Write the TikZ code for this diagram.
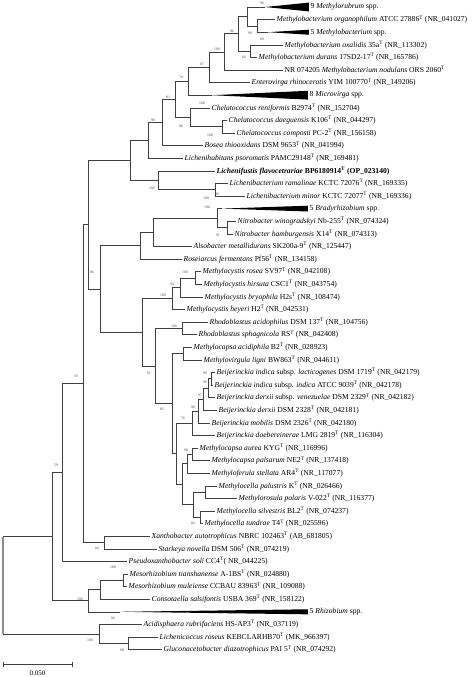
\documentclass[tikz,border=0pt]{standalone}
\usepackage{fontspec}
\setmainfont{Liberation Serif}
\usepackage{tikz}
\usetikzlibrary{positioning}

\newcommand{\sT}{\textsuperscript{T}}

\begin{document}
\begin{tikzpicture}[
    x=1pt, y=-12.6pt,
    br/.style={draw=black!75, line width=0.6pt},
    leaf/.style={anchor=west, inner sep=1.5pt, font=\fontsize{7.6}{8}\selectfont},
    bs/.style={inner sep=0.5pt, font=\fontsize{3.8}{4}\selectfont, text=black!70},
    clade/.style={fill=black}
  ]
  \useasboundingbox (0,0.444) rectangle (474,54.175);

  % ---- internal nodes (x in px, y in leaf rows)
  \coordinate (D1) at (257,2.5);
  \coordinate (D2) at (247,1.75);
  \coordinate (D4) at (250,4.5);
  \coordinate (D3) at (238,3.125);
  \coordinate (D5) at (224,4.5625);
  \coordinate (D6) at (209,5.78);
  \coordinate (D7) at (188,6.89);
  \coordinate (C2) at (222,10.5);
  \coordinate (C1) at (190,9.75);
  \coordinate (D8) at (175,8.32);
  \coordinate (C3) at (162,10.16);
  \coordinate (U2) at (148,11.58);
  \coordinate (L2) at (215,15.5);
  \coordinate (L1) at (158,14.75);
  \coordinate (U3) at (130,13.17);
  \coordinate (N1) at (227,18.5);
  \coordinate (B1) at (217,17.75);
  \coordinate (B2) at (153,18.875);
  \coordinate (U4) at (140,19.94);
  \coordinate (M1) at (195,22.5);
  \coordinate (M2) at (180,23.25);
  \coordinate (M3) at (172,24.125);
  \coordinate (R1) at (182,26.5);
  \coordinate (X1) at (183,28.5);
  \coordinate (Bi1) at (211,30.5);
  \coordinate (Bi2) at (208,31.25);
  \coordinate (Bi3) at (203,32.125);
  \coordinate (Bi4) at (198,33.06);
  \coordinate (Bi5) at (192,34.03);
  \coordinate (P1) at (192,36.5);
  \coordinate (P2) at (187,37.25);
  \coordinate (Q2) at (205,39.5);
  \coordinate (Q1) at (200,41.5);
  \coordinate (Q3) at (193,40.5);
  \coordinate (PQ) at (182,38.875);
  \coordinate (BP) at (176,36.45);
  \coordinate (XB) at (172,32.48);
  \coordinate (RX) at (155,29.49);
  \coordinate (Low) at (142,26.8);
  \coordinate (P100) at (100,23.37);
  \coordinate (Big) at (88,18.27);
  \coordinate (XS) at (104,43.5);
  \coordinate (C) at (83,30.9);
  \coordinate (B) at (62,37.94);
  \coordinate (MM) at (123,46.5);
  \coordinate (G2) at (100,47.25);
  \coordinate (G1) at (88,48.125);
  \coordinate (A) at (52,43.03);
  \coordinate (LG) at (128,51.5);
  \coordinate (Ac) at (99,50.75);
  \coordinate (R) at (3,46.9);

  % ---- collapsed clades
  \coordinate (a1) at (265,1);
  \fill[clade] (a1) -- (309,0.65) -- (309,1.35) -- cycle;
  \node[leaf] (t1) at (309,1) {9 \textit{Methylorubrum} spp.};
  \coordinate (a3) at (268,3);
  \fill[clade] (a3) -- (309,2.8) -- (309,3.2) -- cycle;
  \node[leaf] (t3) at (309,3) {5 \textit{Methylobacterium} spp.};
  \coordinate (a8) at (212,8);
  \fill[clade] (a8) -- (308,7.65) -- (308,8.35) -- cycle;
  \node[leaf] (t8) at (308,8) {8 \textit{Microvirga} spp.};
  \coordinate (a17) at (222,17);
  \fill[clade] (a17) -- (308,16.77) -- (308,17.23) -- cycle;
  \node[leaf] (t17) at (308,17) {5 \textit{Bradyrhizobium} spp.};
  \coordinate (a49) at (120,49);
  \fill[clade] (a49) -- (308,48.8) -- (308,49.2) -- cycle;
  \node[leaf] (t49) at (308,49) {5 \textit{Rhizobium} spp.};

  % ---- taxa
  \node[leaf] (t2) at (275,2) {\textit{Methylobacterium organophilum} ATCC 27886\sT{} (NR\_041027)};
  \node[leaf] (t4) at (283,4) {\textit{Methylobacterium oxalidis} 35a\sT{} (NR\_113302)};
  \node[leaf] (t5) at (257,5) {\textit{Methylobacterium durans} 17SD2-17\sT{} (NR\_165786)};
  \node[leaf] (t6) at (283,6) {NR 074205 \textit{Methylobacterium nodulans} ORS 2060\sT};
  \node[leaf] (t7) at (250,7) {\textit{Enterovirga rhinocerotis} YIM 100770\sT{} (NR\_149206)};
  \node[leaf] (t9) at (210,9) {\textit{Chelatococcus reniformis} B2974\sT{} (NR\_152704)};
  \node[leaf] (t10) at (227,10) {\textit{Chelatococcus daeguensis} K106\sT{} (NR\_044297)};
  \node[leaf] (t11) at (235,11) {\textit{Chelatococcus composti} PC-2\sT{} (NR\_156158)};
  \node[leaf] (t12) at (203,12) {\textit{Bosea thiooxidans} DSM 9653\sT{} (NR\_041994)};
  \node[leaf] (t13) at (183,13) {\textit{Lichenihabitans psoromatis} PAMC29148\sT{} (NR\_169481)};
  \node[leaf] (t14) at (215,14) {\textbf{\textit{Lichenifustis flavocetrariae} BP6180914\sT{} (OP\_023140)}};
  \node[leaf] (t15) at (228,15) {\textit{Lichenibacterium ramalinae} KCTC 72076\sT{} (NR\_169335)};
  \node[leaf] (t16) at (245,16) {\textit{Lichenibacterium minor} KCTC 72077\sT{} (NR\_169336)};
  \node[leaf] (t18) at (236,18) {\textit{Nitrobacter winogradskyi} Nb-255\sT{} (NR\_074324)};
  \node[leaf] (t19) at (233,19) {\textit{Nitrobacter hamburgensis} X14\sT{} (NR\_074313)};
  \node[leaf] (t20) at (192,20) {\textit{Alsobacter metallidurans} SK200a-9\sT{} (NR\_125447)};
  \node[leaf] (t21) at (182,21) {\textit{Roseiarcus fermentans} Pf56\sT{} (NR\_134158)};
  \node[leaf] (t22) at (201,22) {\textit{Methylocystis rosea} SV97\sT{} (NR\_042108)};
  \node[leaf] (t23) at (202,23) {\textit{Methylocystis hirsuta} CSC1\sT{} (NR\_043754)};
  \node[leaf] (t24) at (203,24) {\textit{Methylocystis bryophila} H2s\sT{} (NR\_108474)};
  \node[leaf] (t25) at (185,25) {\textit{Methylocystis heyeri} H2\sT{} (NR\_042531)};
  \node[leaf] (t26) at (208,26) {\textit{Rhodoblastus acidophilus} DSM 137\sT{} (NR\_104756)};
  \node[leaf] (t27) at (197,27) {\textit{Rhodoblastus sphagnicola} RS\sT{} (NR\_042408)};
  \node[leaf] (t28) at (192,28) {\textit{Methylocapsa acidiphila} B2\sT{} (NR\_028923)};
  \node[leaf] (t29) at (202,29) {\textit{Methylovirgula ligni} BW863\sT{} (NR\_044611)};
  \node[leaf] (t30) at (215,30) {\textit{Beijerinckia indica} subsp. \textit{lacticogenes} DSM 1719\sT{} (NR\_042179)};
  \node[leaf] (t31) at (213,31) {\textit{Beijerinckia indica} subsp. \textit{indica} ATCC 9039\sT{} (NR\_042178)};
  \node[leaf] (t32) at (215,32) {\textit{Beijerinckia derxii} subsp. \textit{venezuelae} DSM 2329\sT{} (NR\_042182)};
  \node[leaf] (t33) at (217,33) {\textit{Beijerinckia derxii} DSM 2328\sT{} (NR\_042181)};
  \node[leaf] (t34) at (210,34) {\textit{Beijerinckia mobilis} DSM 2326\sT{} (NR\_042180)};
  \node[leaf] (t35) at (215,35) {\textit{Beijerinckia doebereinerae} LMG 2819\sT{} (NR\_116304)};
  \node[leaf] (t36) at (198,36) {\textit{Methylocapsa aurea} KYG\sT{} (NR\_116996)};
  \node[leaf] (t37) at (210,37) {\textit{Methylocapsa palsarum} NE2\sT{} (NR\_137418)};
  \node[leaf] (t38) at (210,38) {\textit{Methyloferula stellata} AR4\sT{} (NR\_117077)};
  \node[leaf] (t39) at (217,39) {\textit{Methylocella palustris} K\sT{} (NR\_026466)};
  \node[leaf] (t40) at (237,40) {\textit{Methylorosula polaris} V-022\sT{} (NR\_116377)};
  \node[leaf] (t41) at (215,41) {\textit{Methylocella silvestris} BL2\sT{} (NR\_074237)};
  \node[leaf] (t42) at (203,42) {\textit{Methylocella tundrae} T4\sT{} (NR\_025596)};
  \node[leaf] (t43) at (150,43) {\textit{Xanthobacter autotrophicus} NBRC 102463\sT{} (AB\_681805)};
  \node[leaf] (t44) at (157,44) {\textit{Starkeya novella} DSM 506\sT{} (NR\_074219)};
  \node[leaf] (t45) at (127,45) {\textit{Pseudoxanthobacter soli} CC4\sT( NR\_044225)};
  \node[leaf] (t46) at (128,46) {\textit{Mesorhizobium tianshanense} A-1BS\sT{} (NR\_024880)};
  \node[leaf] (t47) at (127,47) {\textit{Mesorhizobium muleiense} CCBAU 83963\sT{} (NR\_109088)};
  \node[leaf] (t48) at (150,48) {\textit{Consotaella salsifontis} USBA 369\sT{} (NR\_158122)};
  \node[leaf] (t50) at (142,50) {\textit{Acidisphaera rubrifaciens} HS-AP3\sT{} (NR\_037119)};
  \node[leaf] (t51) at (158,51) {\textit{Lichenicoccus roseus} KEBCLARHB70\sT{} (MK\_966397)};
  \node[leaf] (t52) at (162,52) {\textit{Gluconacetobacter diazotrophicus} PAI 5\sT{} (NR\_074292)};

  % ---- branches
  \draw[br] (D1) |- (t2.west);  \draw[br] (D1) |- (a3);
  \draw[br] (D2) |- (a1);       \draw[br] (D2) |- (D1);
  \draw[br] (D4) |- (t4.west);  \draw[br] (D4) |- (t5.west);
  \draw[br] (D3) |- (D2);       \draw[br] (D3) |- (D4);
  \draw[br] (D5) |- (D3);       \draw[br] (D5) |- (t6.west);
  \draw[br] (D6) |- (D5);       \draw[br] (D6) |- (t7.west);
  \draw[br] (D7) |- (D6);       \draw[br] (D7) |- (a8);
  \draw[br] (C2) |- (t10.west); \draw[br] (C2) |- (t11.west);
  \draw[br] (C1) |- (t9.west);  \draw[br] (C1) |- (C2);
  \draw[br] (D8) |- (D7);       \draw[br] (D8) |- (C1);
  \draw[br] (C3) |- (D8);       \draw[br] (C3) |- (t12.west);
  \draw[br] (U2) |- (C3);       \draw[br] (U2) |- (t13.west);
  \draw[br] (L2) |- (t15.west); \draw[br] (L2) |- (t16.west);
  \draw[br] (L1) |- (t14.west); \draw[br] (L1) |- (L2);
  \draw[br] (U3) |- (U2);       \draw[br] (U3) |- (L1);
  \draw[br] (N1) |- (t18.west); \draw[br] (N1) |- (t19.west);
  \draw[br] (B1) |- (a17);      \draw[br] (B1) |- (N1);
  \draw[br] (B2) |- (B1);       \draw[br] (B2) |- (t20.west);
  \draw[br] (U4) |- (B2);       \draw[br] (U4) |- (t21.west);
  \draw[br] (M1) |- (t22.west); \draw[br] (M1) |- (t23.west);
  \draw[br] (M2) |- (M1);       \draw[br] (M2) |- (t24.west);
  \draw[br] (M3) |- (M2);       \draw[br] (M3) |- (t25.west);
  \draw[br] (R1) |- (t26.west); \draw[br] (R1) |- (t27.west);
  \draw[br] (X1) |- (t28.west); \draw[br] (X1) |- (t29.west);
  \draw[br] (Bi1) |- (t30.west); \draw[br] (Bi1) |- (t31.west);
  \draw[br] (Bi2) |- (Bi1);      \draw[br] (Bi2) |- (t32.west);
  \draw[br] (Bi3) |- (Bi2);      \draw[br] (Bi3) |- (t33.west);
  \draw[br] (Bi4) |- (Bi3);      \draw[br] (Bi4) |- (t34.west);
  \draw[br] (Bi5) |- (Bi4);      \draw[br] (Bi5) |- (t35.west);
  \draw[br] (P1) |- (t36.west);  \draw[br] (P1) |- (t37.west);
  \draw[br] (P2) |- (P1);        \draw[br] (P2) |- (t38.west);
  \draw[br] (Q2) |- (t39.west);  \draw[br] (Q2) |- (t40.west);
  \draw[br] (Q1) |- (t41.west);  \draw[br] (Q1) |- (t42.west);
  \draw[br] (Q3) |- (Q2);        \draw[br] (Q3) |- (Q1);
  \draw[br] (PQ) |- (P2);        \draw[br] (PQ) |- (Q3);
  \draw[br] (BP) |- (Bi5);       \draw[br] (BP) |- (PQ);
  \draw[br] (XB) |- (X1);        \draw[br] (XB) |- (BP);
  \draw[br] (RX) |- (R1);        \draw[br] (RX) |- (XB);
  \draw[br] (Low) |- (M3);       \draw[br] (Low) |- (RX);
  \draw[br] (P100) |- (U4);      \draw[br] (P100) |- (Low);
  \draw[br] (Big) |- (U3);       \draw[br] (Big) |- (P100);
  \draw[br] (XS) |- (t43.west);  \draw[br] (XS) |- (t44.west);
  \draw[br] (C) |- (Big);        \draw[br] (C) |- (XS);
  \draw[br] (B) |- (C);          \draw[br] (B) |- (t45.west);
  \draw[br] (MM) |- (t46.west);  \draw[br] (MM) |- (t47.west);
  \draw[br] (G2) |- (MM);        \draw[br] (G2) |- (t48.west);
  \draw[br] (G1) |- (G2);        \draw[br] (G1) |- (a49);
  \draw[br] (A) |- (B);          \draw[br] (A) |- (G1);
  \draw[br] (LG) |- (t51.west);  \draw[br] (LG) |- (t52.west);
  \draw[br] (Ac) |- (t50.west);  \draw[br] (Ac) |- (LG);
  \draw[br] (R) |- (A);          \draw[br] (R) |- (Ac);
  \draw[draw=black!45, line width=1.2pt] (R |- A) -- (R |- Ac);

  % ---- bootstrap values (placed in pixel units)
  \begin{scope}[y=-1pt, yshift=-5.6pt]
    \node[bs] (v1) at (262,3) {96};
    \node[bs] (v2) at (250,33) {99};
    \node[bs] (v3) at (262,39) {80};
    \node[bs] (v4) at (232,31) {96};
    \node[bs] (v5) at (217,49) {100};
    \node[bs] (v6) at (244,57) {66};
    \node[bs] (v7) at (202,64) {87};
    \node[bs] (v8) at (181,77) {74};
    \node[bs] (v9) at (168,97) {81};
    \node[bs] (v10) at (202,103) {100};
    \node[bs] (v11) at (181,126) {88};
    \node[bs] (v12) at (210,135) {100};
    \node[bs] (v13) at (153,120) {90};
    \node[bs] (v14) at (152,188) {100};
    \node[bs] (v15) at (206,198) {100};
    \node[bs] (v16) at (217,194) {99};
    \node[bs] (v17) at (207,207) {100};
    \node[bs] (v18) at (218,235) {91};
    \node[bs] (v19) at (185,272) {100};
    \node[bs] (v20) at (172,284) {94};
    \node[bs] (v21) at (163,295) {100};
    \node[bs] (v22) at (174,326) {100};
    \node[bs] (v23) at (205,373) {99};
    \node[bs] (v24) at (205,382) {99};
    \node[bs] (v25) at (200,395) {97};
    \node[bs] (v26) at (193,407) {90};
    \node[bs] (v27) at (183,418) {76};
    \node[bs] (v28) at (162,409) {83};
    \node[bs] (v29) at (149,373) {61};
    \node[bs] (v30) at (186,450) {98};
    \node[bs] (v31) at (193,523) {84};
    \node[bs] (v32) at (92,272) {86};
    \node[bs] (v33) at (76,376) {59};
    \node[bs] (v34) at (56,465) {59};
    \node[bs] (v35) at (97,548) {84};
    \node[bs] (v36) at (113,567) {100};
    \node[bs] (v37) at (80,599) {100};
    \node[bs] (v38) at (113,618) {84};
    \node[bs] (v39) at (90,640) {100};
    \node[bs] (v40) at (122,650) {98};
  \end{scope}

  % ---- scale bar
  \coordinate (s0) at (3,53.2);
  \coordinate (s1) at (72,53.2);
  \draw[br] (s0) -- (s1);
  \draw[br] (s0) ++(0,-0.2) -- ++(0,0.4);
  \draw[br] (s1) ++(0,-0.2) -- ++(0,0.4);
  \node[font=\fontsize{7}{8}\selectfont] (sl) at (37.5,53.9) {0.050};
\end{tikzpicture}
\end{document}
